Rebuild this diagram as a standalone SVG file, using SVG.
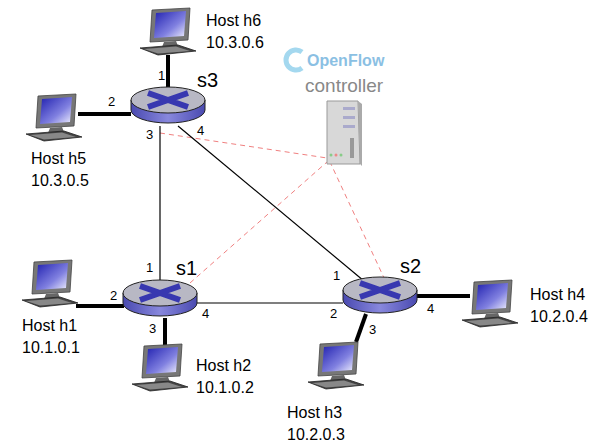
<svg xmlns="http://www.w3.org/2000/svg" width="608" height="448" viewBox="0 0 608 448">
<defs>
<linearGradient id="scr" x1="0" y1="0" x2="1" y2="1"><stop offset="0" stop-color="#2020b0"/><stop offset="0.6" stop-color="#8080e0"/><stop offset="1" stop-color="#f0f0ff"/></linearGradient>
<linearGradient id="side" x1="0" y1="0" x2="1" y2="0"><stop offset="0" stop-color="#4a4ab0"/><stop offset="0.5" stop-color="#8888dd"/><stop offset="1" stop-color="#4a4ab0"/></linearGradient>
<g id="host">
<polygon points="14,2 52,0 50,32 12,34" fill="#777" stroke="#444" stroke-width="0.8"/>
<polygon points="18,5 48,3 46,28 16,30" fill="url(#scr)"/>
<polygon points="26,34 38,33 40,38 24,39" fill="#666"/>
<polygon points="2,40 40,37 58,43 20,47" fill="#444" stroke="#222" stroke-width="0.8"/>
<polygon points="6,41 38,38.5 52,43 20,45.5" fill="#888"/>
</g>
<g id="sw">
<path d="M-37,0 L-37,10 A37,13 0 0 0 37,10 L37,0 Z" fill="url(#side)" stroke="#222" stroke-width="1"/>
<ellipse cx="0" cy="0" rx="37" ry="13" fill="#b8b8c4" stroke="#222" stroke-width="1"/>
<path d="M-20,-7 L20,7 M-20,7 L20,-7" stroke="#3838b0" stroke-width="6"/>
</g>
</defs>
<style>
text{font-family:"Liberation Sans",Arial,sans-serif;font-size:16px;fill:#000}
.p{font-size:13px}
.s{font-size:20px}
.l{stroke:#000;stroke-width:1.2;fill:none}
.hl{stroke:#000;stroke-width:4;fill:none}
.c{stroke:#f08080;stroke-width:1;stroke-dasharray:5,4;fill:none}
</style>
<rect width="608" height="448" fill="#fff"/>
<g id="connectors">
<line class="c" x1="160" y1="133" x2="327" y2="158"/>
<line class="c" x1="190" y1="283" x2="327" y2="162"/>
<line class="c" x1="385" y1="280" x2="330" y2="162"/>
<line class="l" x1="160" y1="126" x2="160" y2="286"/>
<line class="l" x1="178" y1="126" x2="370" y2="286"/>
<line class="l" x1="197" y1="303" x2="343" y2="303"/>
<line class="hl" x1="168" y1="55" x2="168" y2="90"/>
<line class="hl" x1="78" y1="114" x2="131" y2="114"/>
<line class="hl" x1="76" y1="306" x2="124" y2="306"/>
<line class="hl" x1="165" y1="318" x2="165" y2="350"/>
<line class="hl" x1="366" y1="314" x2="356" y2="342"/>
<line class="hl" x1="417" y1="296" x2="470" y2="296"/>
</g>
<g id="controller">
<text x="307" y="66" style="font-size:16px;font-weight:bold;fill:#5aa6d8;opacity:0.7">OpenFlow</text>
<path d="M302,52 A10,10 0 1 0 302,68" stroke="#7ec8e8" stroke-width="5" fill="none" opacity="0.7"/>
<text x="305" y="92" style="font-size:19px;fill:#888">controller</text>
<polygon points="327,101 358,101 360,164 327,164" fill="#d8d8d8" stroke="#999"/>
<polygon points="358,101 362,104 362,166 360,164" fill="#aaa"/>
<rect x="343" y="107" width="12" height="3" fill="#aac"/>
<rect x="343" y="116" width="12" height="3" fill="#aac"/>
<rect x="343" y="125" width="12" height="3" fill="#aac"/>
<rect x="350" y="138" width="4" height="20" fill="#999"/>
<circle cx="331" cy="155" r="1.5" fill="#8c8"/><circle cx="336" cy="155" r="1.5" fill="#e88"/><circle cx="341" cy="155" r="1.5" fill="#8c8"/>
</g>
<g id="s3"><use href="#sw" x="168" y="100"/><text class="s" x="197" y="87">s3</text>
<text class="p" x="158" y="80">1</text><text class="p" x="108" y="106">2</text><text class="p" x="146" y="139">3</text><text class="p" x="197" y="135">4</text></g>
<g id="s1"><use href="#sw" x="160" y="293"/><text class="s" x="176" y="275">s1</text>
<text class="p" x="146" y="272">1</text><text class="p" x="110" y="300">2</text><text class="p" x="149" y="333">3</text><text class="p" x="202" y="318">4</text></g>
<g id="s2"><use href="#sw" x="380" y="290"/><text class="s" x="400" y="273">s2</text>
<text class="p" x="333" y="280">1</text><text class="p" x="330" y="318">2</text><text class="p" x="369" y="334">3</text><text class="p" x="427" y="313">4</text></g>
<g id="h6"><use href="#host" x="138" y="8"/><text x="206" y="26">Host h6</text><text x="206" y="48">10.3.0.6</text></g>
<g id="h5"><use href="#host" x="24" y="94"/><text x="31" y="164">Host h5</text><text x="31" y="186">10.3.0.5</text></g>
<g id="h1"><use href="#host" x="20" y="260"/><text x="22" y="331">Host h1</text><text x="22" y="353">10.1.0.1</text></g>
<g id="h2"><use href="#host" x="130" y="344"/><text x="196" y="371">Host h2</text><text x="196" y="393">10.1.0.2</text></g>
<g id="h3"><use href="#host" x="306" y="342"/><text x="287" y="418">Host h3</text><text x="287" y="440">10.2.0.3</text></g>
<g id="h4"><use href="#host" x="460" y="280"/><text x="530" y="300">Host h4</text><text x="530" y="322">10.2.0.4</text></g>
</svg>
